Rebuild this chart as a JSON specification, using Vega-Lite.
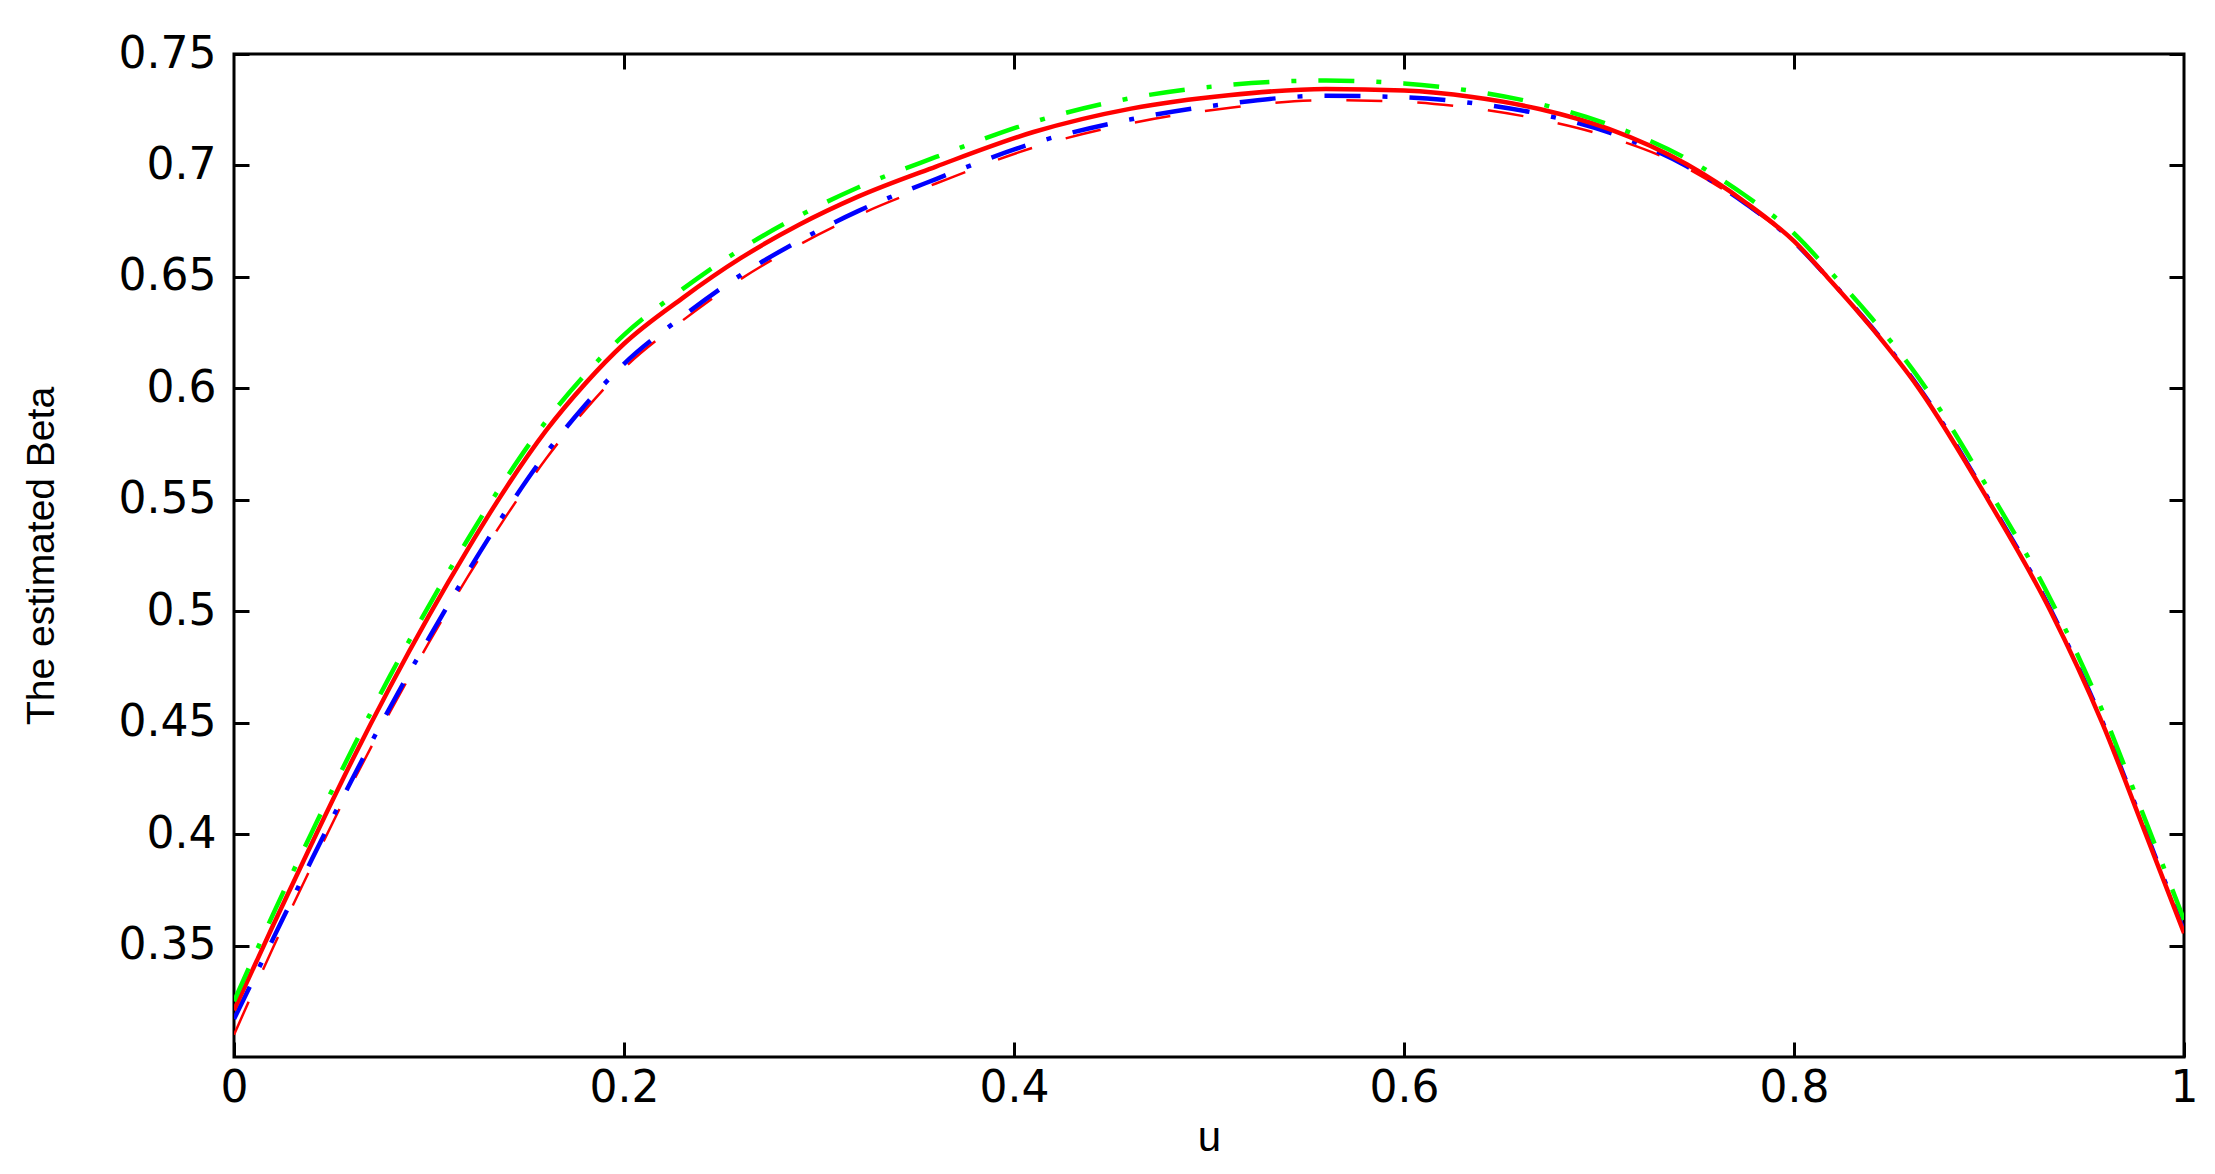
{
  "$schema": "https://vega.github.io/schema/vega-lite/v6.json",
  "width": 1950,
  "height": 1003,
  "autosize": {"type": "none"},
  "padding": {"left": 234, "top": 54, "right": 31, "bottom": 117},
  "background": "white",
  "config": {
    "view": {"stroke": "black", "strokeWidth": 3},
    "axis": {
      "domain": false,
      "grid": false,
      "tickColor": "black",
      "tickWidth": 3,
      "tickSize": -15,
      "labelFont": "DejaVu Sans",
      "labelFontSize": 44,
      "labelColor": "black",
      "labelFlush": false,
      "labelOverlap": false,
      "titleFont": "Liberation Sans",
      "titleFontWeight": "normal",
      "titleColor": "black"
    }
  },
  "datasets": {
    "red_solid": [
      {"u": 0, "beta": 0.321}, {"u": 0.02, "beta": 0.359}, {"u": 0.04, "beta": 0.396}, {"u": 0.06, "beta": 0.432},
      {"u": 0.08, "beta": 0.466}, {"u": 0.1, "beta": 0.498}, {"u": 0.12, "beta": 0.528}, {"u": 0.14, "beta": 0.556},
      {"u": 0.16, "beta": 0.581}, {"u": 0.18, "beta": 0.602}, {"u": 0.2, "beta": 0.62}, {"u": 0.23, "beta": 0.6405},
      {"u": 0.26, "beta": 0.6585}, {"u": 0.29, "beta": 0.6735}, {"u": 0.32, "beta": 0.686}, {"u": 0.36, "beta": 0.6995},
      {"u": 0.41, "beta": 0.715}, {"u": 0.46, "beta": 0.7255}, {"u": 0.51, "beta": 0.7315}, {"u": 0.56, "beta": 0.7343},
      {"u": 0.6, "beta": 0.7336}, {"u": 0.635, "beta": 0.7307}, {"u": 0.67, "beta": 0.7252}, {"u": 0.705, "beta": 0.7164},
      {"u": 0.745, "beta": 0.7005}, {"u": 0.775, "beta": 0.6835}, {"u": 0.8, "beta": 0.666}, {"u": 0.817, "beta": 0.65},
      {"u": 0.84, "beta": 0.627}, {"u": 0.864, "beta": 0.6}, {"u": 0.8995, "beta": 0.55}, {"u": 0.9316, "beta": 0.5},
      {"u": 0.958, "beta": 0.45}, {"u": 0.9804, "beta": 0.4}, {"u": 1, "beta": 0.3556}
    ],
    "green": [
      {"u": 0, "beta": 0.325}, {"u": 0.02, "beta": 0.364}, {"u": 0.04, "beta": 0.401}, {"u": 0.06, "beta": 0.437},
      {"u": 0.08, "beta": 0.471}, {"u": 0.1, "beta": 0.5025}, {"u": 0.12, "beta": 0.5324}, {"u": 0.14, "beta": 0.5603},
      {"u": 0.16, "beta": 0.5852}, {"u": 0.18, "beta": 0.6061}, {"u": 0.2, "beta": 0.624}, {"u": 0.23, "beta": 0.6445},
      {"u": 0.26, "beta": 0.6625}, {"u": 0.29, "beta": 0.6775}, {"u": 0.32, "beta": 0.6901}, {"u": 0.36, "beta": 0.7038},
      {"u": 0.41, "beta": 0.7195}, {"u": 0.46, "beta": 0.7302}, {"u": 0.51, "beta": 0.7361}, {"u": 0.56, "beta": 0.7381},
      {"u": 0.6, "beta": 0.7368}, {"u": 0.635, "beta": 0.7334}, {"u": 0.67, "beta": 0.7275}, {"u": 0.705, "beta": 0.7184},
      {"u": 0.745, "beta": 0.703}, {"u": 0.775, "beta": 0.6865}, {"u": 0.8, "beta": 0.6695}, {"u": 0.817, "beta": 0.6538},
      {"u": 0.84, "beta": 0.6313}, {"u": 0.864, "beta": 0.6046}, {"u": 0.8995, "beta": 0.555}, {"u": 0.9316, "beta": 0.5053},
      {"u": 0.958, "beta": 0.4556}, {"u": 0.9804, "beta": 0.4058}, {"u": 1, "beta": 0.3616}
    ],
    "blue": [
      {"u": 0, "beta": 0.317}, {"u": 0.02, "beta": 0.353}, {"u": 0.04, "beta": 0.3888}, {"u": 0.06, "beta": 0.4236},
      {"u": 0.08, "beta": 0.4568}, {"u": 0.1, "beta": 0.488}, {"u": 0.12, "beta": 0.5178}, {"u": 0.14, "beta": 0.5456},
      {"u": 0.16, "beta": 0.5708}, {"u": 0.18, "beta": 0.5924}, {"u": 0.2, "beta": 0.611}, {"u": 0.23, "beta": 0.6322},
      {"u": 0.26, "beta": 0.6509}, {"u": 0.29, "beta": 0.6663}, {"u": 0.32, "beta": 0.6795}, {"u": 0.36, "beta": 0.6939},
      {"u": 0.41, "beta": 0.71}, {"u": 0.46, "beta": 0.7207}, {"u": 0.51, "beta": 0.7277}, {"u": 0.56, "beta": 0.7313},
      {"u": 0.6, "beta": 0.7306}, {"u": 0.635, "beta": 0.728}, {"u": 0.67, "beta": 0.723}, {"u": 0.705, "beta": 0.7148},
      {"u": 0.745, "beta": 0.6996}, {"u": 0.775, "beta": 0.683}, {"u": 0.8, "beta": 0.6657}, {"u": 0.817, "beta": 0.65},
      {"u": 0.84, "beta": 0.6273}, {"u": 0.864, "beta": 0.6005}, {"u": 0.8995, "beta": 0.5506}, {"u": 0.9316, "beta": 0.5008},
      {"u": 0.958, "beta": 0.4509}, {"u": 0.9804, "beta": 0.401}, {"u": 1, "beta": 0.3566}
    ],
    "red_dashed": [
      {"u": 0, "beta": 0.31}, {"u": 0.02, "beta": 0.349}, {"u": 0.04, "beta": 0.386}, {"u": 0.06, "beta": 0.4216},
      {"u": 0.08, "beta": 0.4548}, {"u": 0.1, "beta": 0.486}, {"u": 0.12, "beta": 0.5156}, {"u": 0.14, "beta": 0.5432},
      {"u": 0.16, "beta": 0.5684}, {"u": 0.18, "beta": 0.5902}, {"u": 0.2, "beta": 0.609}, {"u": 0.23, "beta": 0.6304},
      {"u": 0.26, "beta": 0.6491}, {"u": 0.29, "beta": 0.6645}, {"u": 0.32, "beta": 0.6776}, {"u": 0.36, "beta": 0.6919},
      {"u": 0.41, "beta": 0.708}, {"u": 0.46, "beta": 0.7189}, {"u": 0.51, "beta": 0.7258}, {"u": 0.56, "beta": 0.7293},
      {"u": 0.6, "beta": 0.7286}, {"u": 0.635, "beta": 0.7257}, {"u": 0.67, "beta": 0.7206}, {"u": 0.705, "beta": 0.7128},
      {"u": 0.745, "beta": 0.6988}, {"u": 0.775, "beta": 0.6825}, {"u": 0.8, "beta": 0.6655}, {"u": 0.817, "beta": 0.6497},
      {"u": 0.84, "beta": 0.6269}, {"u": 0.864, "beta": 0.6}, {"u": 0.8995, "beta": 0.55}, {"u": 0.9316, "beta": 0.5},
      {"u": 0.958, "beta": 0.45}, {"u": 0.9804, "beta": 0.4}, {"u": 1, "beta": 0.3556}
    ]
  },
  "layer": [
    {
      "data": {"name": "red_dashed"},
      "mark": {"type": "line", "color": "#ff0000", "strokeWidth": 2.5, "strokeDash": [36, 35], "interpolate": "monotone", "clip": true},
      "encoding": {
        "x": {"field": "u", "type": "quantitative", "scale": {"domain": [0, 1], "nice": false, "zero": false},
          "axis": {"orient": "bottom", "values": [0, 0.2, 0.4, 0.6, 0.8, 1], "format": "~g", "labelPadding": 24,
            "title": "u", "titleFontSize": 42, "titleX": 975, "titleY": 80, "titleAlign": "center", "titleBaseline": "middle"}},
        "y": {"field": "beta", "type": "quantitative", "scale": {"domain": [0.3, 0.75], "nice": false, "zero": false},
          "axis": {"orient": "left", "values": [0.35, 0.4, 0.45, 0.5, 0.55, 0.6, 0.65, 0.7, 0.75], "format": "~g", "labelPadding": 33,
            "title": "The estimated Beta", "titleFontSize": 39, "titleX": -193, "titleY": 501.5, "titleAngle": -90, "titleAlign": "center", "titleBaseline": "middle"}}
      }
    },
    {
      "data": {"name": "blue"},
      "mark": {"type": "line", "color": "#0000ff", "strokeWidth": 4.5, "strokeDash": [36, 22, 5, 22], "interpolate": "monotone", "clip": true},
      "encoding": {
        "x": {"field": "u", "type": "quantitative", "scale": {"domain": [0, 1], "nice": false, "zero": false}, "axis": null},
        "y": {"field": "beta", "type": "quantitative", "scale": {"domain": [0.3, 0.75], "nice": false, "zero": false}, "axis": null}
      }
    },
    {
      "data": {"name": "red_solid"},
      "mark": {"type": "line", "color": "#ff0000", "strokeWidth": 4.5, "interpolate": "monotone", "clip": true},
      "encoding": {
        "x": {"field": "u", "type": "quantitative", "scale": {"domain": [0, 1], "nice": false, "zero": false}, "axis": null},
        "y": {"field": "beta", "type": "quantitative", "scale": {"domain": [0.3, 0.75], "nice": false, "zero": false}, "axis": null}
      }
    },
    {
      "data": {"name": "green"},
      "mark": {"type": "line", "color": "#00ff00", "strokeWidth": 4.5, "strokeDash": [36, 22, 5, 22], "interpolate": "monotone", "clip": true},
      "encoding": {
        "x": {"field": "u", "type": "quantitative", "scale": {"domain": [0, 1], "nice": false, "zero": false},
          "axis": {"orient": "top", "values": [0.2, 0.4, 0.6, 0.8], "labels": false, "title": null}},
        "y": {"field": "beta", "type": "quantitative", "scale": {"domain": [0.3, 0.75], "nice": false, "zero": false},
          "axis": {"orient": "right", "values": [0.35, 0.4, 0.45, 0.5, 0.55, 0.6, 0.65, 0.7, 0.75], "labels": false, "title": null}}
      }
    }
  ],
  "resolve": {"axis": {"x": "independent", "y": "independent"}}
}
